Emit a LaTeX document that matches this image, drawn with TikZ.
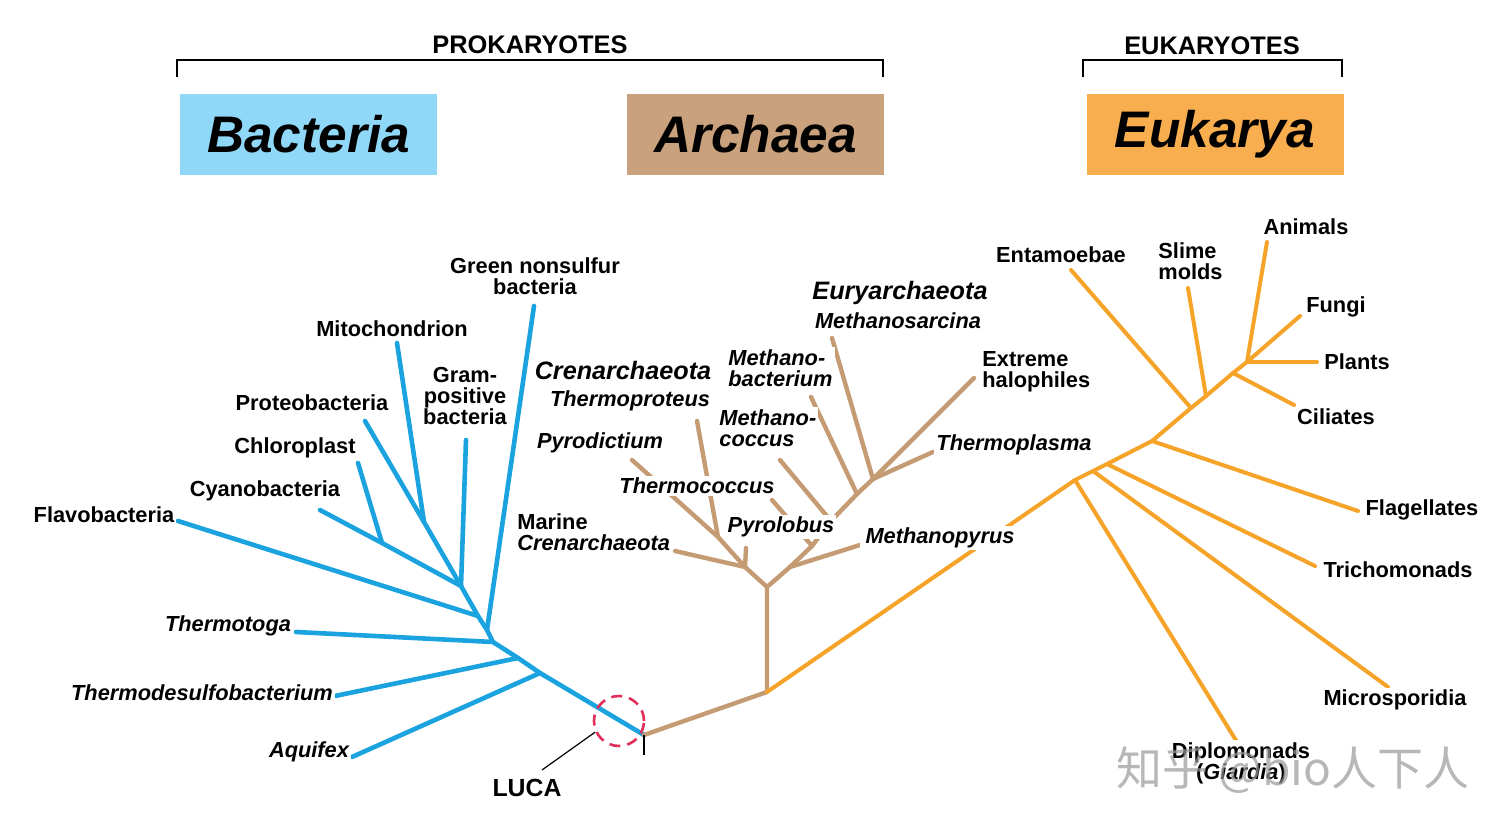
\documentclass[tikz,border=0pt]{standalone}
\usepackage{fontspec}
\setmainfont{Liberation Sans}
\newfontfamily\cjkfont{Noto Sans CJK SC}
\definecolor{bluec}{RGB}{27,163,224}
\definecolor{brownc}{RGB}{196,155,115}
\definecolor{orangec}{RGB}{246,163,42}
\definecolor{bactbox}{RGB}{143,216,247}
\definecolor{archbox}{RGB}{202,161,125}
\definecolor{eukbox}{RGB}{248,174,78}
\definecolor{lucared}{RGB}{224,48,90}
\newcommand\lblfont{\fontsize{10.9}{10.5}\selectfont\bfseries}
\newcommand\bigfont{\fontsize{12.6}{13}\selectfont\bfseries\itshape}
\begin{document}
\begin{tikzpicture}[x=0.5pt,y=-0.5pt,
  lbl/.style={font=\lblfont, inner sep=1pt, fill=white, align=center},
  ilbl/.style={lbl, font=\lblfont\itshape},
  biglbl/.style={lbl, font=\bigfont},
  lleft/.style={lbl, align=left, anchor=west},
  bl/.style={draw=bluec, line width=2.3pt, line cap=round, line join=round},
  br/.style={draw=brownc, line width=2.2pt, line cap=round, line join=round},
  og/.style={draw=orangec, line width=2pt, line cap=round, line join=round},
  domainbox/.style={minimum width=128.5pt, minimum height=40.5pt, inner sep=0pt, font=\fontsize{25.7}{26}\selectfont\bfseries\itshape},
  bracketline/.style={draw=black, line width=0.8pt},
  header/.style={font=\fontsize{12.7}{13}\selectfont\bfseries, inner sep=0pt}
]
\useasboundingbox (0,0) rectangle (1506,833);
\fill[white] (0,0) rectangle (1506,833);

% ---------- header ----------
\node[header] (prok) at (530,45) {PROKARYOTES};
\node[header] (euk) at (1212,46) {EUKARYOTES};
\coordinate (pb1) at (177,77); \coordinate (pb2) at (177,60);
\coordinate (pb3) at (883,60); \coordinate (pb4) at (883,77);
\coordinate (eb1) at (1083,77); \coordinate (eb2) at (1083,60);
\coordinate (eb3) at (1342,60); \coordinate (eb4) at (1342,77);
\draw[bracketline] (pb1) -- (pb2) -- (pb3) -- (pb4);
\draw[bracketline] (eb1) -- (eb2) -- (eb3) -- (eb4);
\node[domainbox, fill=bactbox] (bact) at (308.5,134.5) {Bacteria};
\node[domainbox, fill=archbox] (arch) at (755.5,134.5) {Archaea};
\node[domainbox, fill=eukbox] (eukar) at (1215,134.5) {Eukarya};

% ---------- bacteria tree ----------
\coordinate (luca) at (644,735);
\coordinate (b1) at (540,673);
\coordinate (b2) at (518,658);
\coordinate (b3) at (493,642);
\coordinate (b4) at (487,630);
\coordinate (b5) at (478,616);
\coordinate (b6) at (461,586);
\coordinate (b7) at (424,522);
\coordinate (b8) at (382,543);
\coordinate (lAquifex) at (352,757);
\coordinate (lThermodes) at (335,696);
\coordinate (lThermotoga) at (296,632);
\coordinate (lGreen) at (534,306);
\coordinate (lFlavo) at (178,521);
\coordinate (lGram) at (466,440);
\coordinate (lMito) at (397,343);
\coordinate (lProteo) at (365,421);
\coordinate (lChloro) at (358,463);
\coordinate (lCyano) at (320,510);
\draw[bl] (luca) -- (b1) -- (b2) -- (b3) -- (b4) -- (b5) -- (b6);
\draw[bl] (b1) -- (lAquifex);
\draw[bl] (b2) -- (lThermodes);
\draw[bl] (b3) -- (lThermotoga);
\draw[bl] (b4) -- (lGreen);
\draw[bl] (b5) -- (lFlavo);
\draw[bl] (b6) -- (lGram);
\draw[bl] (b6) -- (b7) -- (lMito);
\draw[bl] (b7) -- (lProteo);
\draw[bl] (b6) -- (b8) -- (lChloro);
\draw[bl] (b8) -- (lCyano);

% ---------- archaea tree ----------
\coordinate (a0) at (767,692);
\coordinate (a1) at (767,587);
\coordinate (aL) at (745,567);
\coordinate (aR) at (790,567);
\coordinate (aLL) at (718,537);
\coordinate (aP) at (812,546);
\coordinate (aE1) at (831,521);
\coordinate (aE2) at (857,494);
\coordinate (aE3) at (873,479);
\coordinate (lMarine) at (675,551);
\coordinate (lTcoccus) at (746,548);
\coordinate (lPyrod) at (632,460);
\coordinate (lTprot) at (697,421);
\coordinate (lMpyrus) at (860,545);
\coordinate (lPyrol) at (772,500);
\coordinate (lMcoccus) at (780,460);
\coordinate (lMbact) at (811,397);
\coordinate (lMsarc) at (832,338);
\coordinate (lHalo) at (974,378);
\coordinate (lTplasma) at (933,452);
\draw[br] (luca) -- (a0) -- (a1);
\draw[br] (aL) -- (a1) -- (aR);
\draw[br] (aL) -- (lMarine);
\draw[br] (aL) -- (lTcoccus);
\draw[br] (aL) -- (aLL) -- (lPyrod);
\draw[br] (aLL) -- (lTprot);
\draw[br] (aR) -- (lMpyrus);
\draw[br] (aR) -- (aP) -- (lPyrol);
\draw[br] (aP) -- (aE1) -- (aE2) -- (aE3);
\draw[br] (aE1) -- (lMcoccus);
\draw[br] (aE2) -- (lMbact);
\draw[br] (aE3) -- (lMsarc);
\draw[br] (aE3) -- (lHalo);
\draw[br] (aE3) -- (lTplasma);

% ---------- eukarya tree ----------
\coordinate (o1) at (1075,480);
\coordinate (o2) at (1093,471);
\coordinate (o3) at (1107,464);
\coordinate (o4) at (1152,441);
\coordinate (o5) at (1191,408);
\coordinate (o6) at (1206,396);
\coordinate (o7) at (1233,373);
\coordinate (o8) at (1247,362);
\coordinate (lDiplo) at (1237,742);
\coordinate (lMicro) at (1388,687);
\coordinate (lTricho) at (1315,566);
\coordinate (lFlag) at (1358,511);
\coordinate (lEnta) at (1071,270);
\coordinate (lSlime) at (1188,288);
\coordinate (lCili) at (1294,405);
\coordinate (lPlants) at (1317,362);
\coordinate (lFungi) at (1300,316);
\coordinate (lAnim) at (1267,242);
\draw[og] (a0) -- (o1) -- (o2) -- (o3) -- (o4) -- (o5) -- (o6) -- (o7) -- (o8);
\draw[og] (o1) -- (lDiplo);
\draw[og] (o2) -- (lMicro);
\draw[og] (o3) -- (lTricho);
\draw[og] (o4) -- (lFlag);
\draw[og] (o5) -- (lEnta);
\draw[og] (o6) -- (lSlime);
\draw[og] (o7) -- (lCili);
\draw[og] (o8) -- (lPlants);
\draw[og] (o8) -- (lFungi);
\draw[og] (o8) -- (lAnim);

% ---------- LUCA ----------
\node[circle, draw=lucared, dash pattern=on 5.5pt off 3.5pt, line width=1.3pt, minimum size=25pt, inner sep=0pt] (lucacirc) at (619,721) {};
\coordinate (tickend) at (644,755);
\draw[black, line width=0.8pt] (luca) -- (tickend);
\node[font=\fontsize{12.4}{13}\selectfont\bfseries, inner sep=1pt] (lucatxt) at (527,788) {LUCA};
\coordinate (lucaptr) at (542,770);
\draw[black, line width=0.6pt] (lucaptr) -- (lucacirc.205);

% ---------- bacteria labels ----------
\node[lbl] (tGreen) at (535,276) {Green nonsulfur\\bacteria};
\node[lbl] (tMito) at (392,329) {Mitochondrion};
\node[lbl] (tGram) at (465,396) {Gram-\\positive\\bacteria};
\node[lbl] (tProteo) at (312,403) {Proteobacteria};
\node[lbl] (tChloro) at (295,448) {Chloroplast};
\node[lbl] (tCyano) at (265,491) {Cyanobacteria};
\node[lbl] (tFlavo) at (104,515) {Flavobacteria};
\node[ilbl] (tTtoga) at (228,626) {Thermotoga};
\node[ilbl] (tTdes) at (202,693) {Thermodesulfobacterium};
\node[ilbl] (tAquifex) at (309,752) {Aquifex};

% ---------- archaea labels ----------
\node[biglbl] (tCren) at (623,370) {Crenarchaeota};
\node[ilbl] (tTprot) at (630,401) {Thermoproteus};
\node[ilbl] (tPyrod) at (600,443) {Pyrodictium};
\node[ilbl] (tTcoccus) at (697,486) {Thermococcus};
\node[lleft] (tMarine) at (515,532) {Marine\\\textit{Crenarchaeota}};
\node[ilbl] (tPyrol) at (781,527) {Pyrolobus};
\node[ilbl, inner xsep=3pt] (tMpyrus) at (940,538) {Methanopyrus};
\node[lleft, font=\lblfont\itshape] (tMbact) at (726,368) {Methano-\\bacterium};
\node[lleft, font=\lblfont\itshape] (tMcoccus) at (717,428) {Methano-\\coccus};
\node[biglbl] (tEury) at (900,293) {Euryarchaeota};
\node[ilbl] (tMsarc) at (898,321) {Methanosarcina};
\node[lleft] (tHalo) at (980,372) {Extreme\\halophiles};
\node[ilbl] (tTplasma) at (1014,445) {Thermoplasma};

% ---------- eukarya labels ----------
\node[lbl] (tEnta) at (1061,255) {Entamoebae};
\node[lleft] (tSlime) at (1156,261) {Slime\\molds};
\node[lbl] (tAnim) at (1306,227) {Animals};
\node[lbl] (tFungi) at (1336,307) {Fungi};
\node[lbl] (tPlants) at (1357,362) {Plants};
\node[lbl] (tCili) at (1336,417) {Ciliates};
\node[lbl] (tFlag) at (1422,510) {Flagellates};
\node[lbl] (tTricho) at (1398,570) {Trichomonads};
\node[lbl] (tMicro) at (1395,700) {Microsporidia};
\node[lbl] (tDiplo) at (1241,763) {Diplomonads\\(\textit{Giardia})};

% ---------- watermark ----------
\node[text=black!40, opacity=0.7, font=\cjkfont\fontsize{23}{23}\selectfont, inner sep=0pt] (wm) at (1293,770) {知乎 @bio人下人};
\end{tikzpicture}
\end{document}
